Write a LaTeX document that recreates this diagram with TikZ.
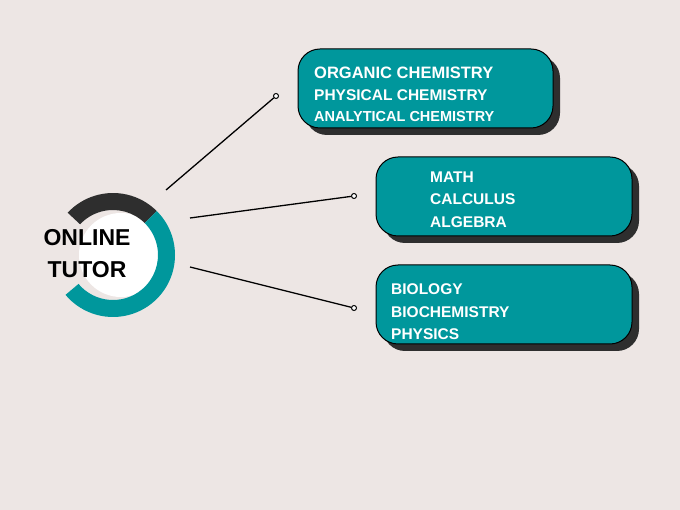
\documentclass[tikz,border=0pt]{standalone}
\usepackage{fontspec}
\setmainfont{Liberation Sans}
\definecolor{bg}{HTML}{EDE6E4}
\definecolor{teal}{HTML}{00979C}
\definecolor{dark}{HTML}{2E2E2E}
\begin{document}
\begin{tikzpicture}[x=1pt,y=-1pt,
  card/.style={fill=teal,draw=black,line width=1pt,rounded corners=22pt},
  shade/.style={fill=dark,rounded corners=22pt},
  lbl/.style={anchor=west,text=white,font=\bfseries\fontsize{16.5}{18}\selectfont,inner sep=0pt},
  conn/.style={line width=1.3pt,black},
  dotc/.style={circle,draw=black,fill=white,line width=1pt,inner sep=0pt,minimum size=5pt}]
\fill[bg] (0,0) rectangle (680,510);
\useasboundingbox (0,0) rectangle (680,510);
% ring
\fill[white] (121,255) circle (42);
\fill[dark] (113,255) ++(-137:62) arc[start angle=-137,end angle=-45,radius=62] -- ++(-45:-17) arc[start angle=-45,end angle=-137,radius=45] -- cycle;
\fill[teal] (113,255) ++(-45:62) arc[start angle=-45,end angle=140,radius=62] -- ++(140:-17) arc[start angle=140,end angle=-45,radius=45] -- cycle;
\node[font=\bfseries\fontsize{23}{26}\selectfont,align=center,text=black] (tutor) at (87,254) {ONLINE\\[6pt]TUTOR};
% boxes
\fill[shade] (305,56) rectangle (560,135);
\draw[card] (298,49) rectangle (553,128);
\node[lbl] (t1a) at (314,73) {ORGANIC CHEMISTRY};
\node[lbl,font=\bfseries\fontsize{15.5}{18}\selectfont] (t1b) at (314,95) {PHYSICAL CHEMISTRY};
\node[lbl,font=\bfseries\fontsize{14.5}{18}\selectfont] (t1c) at (314,117) {ANALYTICAL CHEMISTRY};
\fill[shade] (383,164) rectangle (639,243);
\draw[card] (376,157) rectangle (632,236);
\node[lbl,font=\bfseries\fontsize{15.5}{18}\selectfont] (t2a) at (430,177) {MATH};
\node[lbl,font=\bfseries\fontsize{15.5}{18}\selectfont] (t2b) at (430,199) {CALCULUS};
\node[lbl,font=\bfseries\fontsize{15.5}{18}\selectfont] (t2c) at (430,222) {ALGEBRA};
\fill[shade] (383,272) rectangle (639,351);
\draw[card] (376,265) rectangle (632,344);
\node[lbl,font=\bfseries\fontsize{15.5}{18}\selectfont] (t3a) at (391,289) {BIOLOGY};
\node[lbl,font=\bfseries\fontsize{15.5}{18}\selectfont] (t3b) at (391,312) {BIOCHEMISTRY};
\node[lbl,font=\bfseries\fontsize{15.5}{18}\selectfont] (t3c) at (391,334) {PHYSICS};
% connectors
\coordinate (s1) at (166,190);
\coordinate (s2) at (190,218);
\coordinate (s3) at (190,267);
\node[dotc] (d1) at (276,96) {};
\node[dotc] (d2) at (354,196) {};
\node[dotc] (d3) at (354,308) {};
\draw[conn] (s1) -- (d1);
\draw[conn] (s2) -- (d2);
\draw[conn] (s3) -- (d3);
\end{tikzpicture}
\end{document}
